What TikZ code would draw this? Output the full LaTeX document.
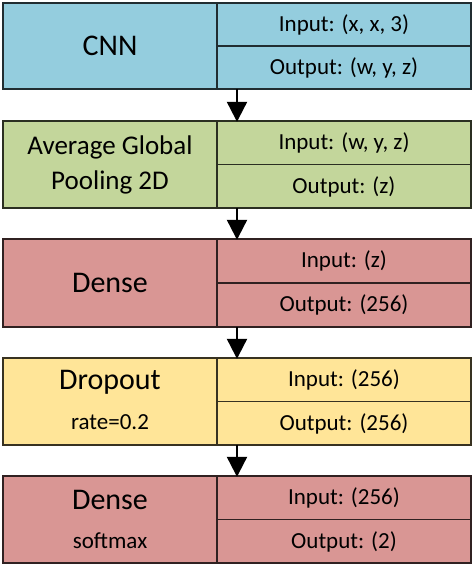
\documentclass[tikz,border=0pt]{standalone}
\usepackage{fontspec}
\setmainfont{Carlito}
\usetikzlibrary{arrows.meta}
\definecolor{cblue}{RGB}{148,205,222}
\definecolor{cgreen}{RGB}{195,214,155}
\definecolor{cred}{RGB}{217,150,148}
\definecolor{cyellow}{RGB}{255,229,152}
\tikzset{
  layerbox/.style={draw=#1!22!black, fill=#1, line width=1.6pt},
  divline/.style={draw=#1!22!black, line width=1.6pt},
  bigtxt/.style={font=\fontsize{30}{34}\selectfont, inner sep=0pt},
  midtxt/.style={font=\fontsize{27}{32}\selectfont, inner sep=0pt, align=center},
  smalltxt/.style={font=\fontsize{23}{27}\selectfont, inner sep=0pt},
  flow/.style={line width=2.2pt, -{Triangle[length=20pt,width=20pt]}, shorten >=-0.8pt}
}
\begin{document}
\begin{tikzpicture}[x=1pt,y=-1pt]
\useasboundingbox (0,0) rectangle (474,566);
% box tops and bottoms
\def\L{3}\def\R{471}\def\D{217}
\foreach \name/\top/\bot/\col in {b1/3/89/cblue, b2/121/208/cgreen, b3/239/327/cred, b4/358/445/cyellow, b5/476/563/cred}{
  \path[layerbox=\col] (\L,\top) rectangle (\R,\bot);
  \draw[divline=\col] (\D,\top) -- (\D,\bot);
  \draw[divline=\col] (\D,{(\top+\bot)/2}) -- (\R,{(\top+\bot)/2});
  \coordinate (\name top) at (237,\top);
  \coordinate (\name bot) at (237,\bot);
}
% left labels
\node[bigtxt] (cnn) at (110,46) {CNN};
\node[midtxt] (agp) at (110,165) {Average Global\\[2.5pt]Pooling 2D};
\node[bigtxt] (dense1) at (110,283) {Dense};
\node[bigtxt] (drop) at (110,382) {Dropout};
\node[smalltxt] (rate) at (110,422) {rate=0.2};
\node[bigtxt] (dense2) at (110,500) {Dense};
\node[smalltxt] (soft) at (110,541) {softmax};
% right labels
\node[smalltxt] (i1) at (344,25) {Input: (x, x, 3)};
\node[smalltxt] (o1) at (344,68) {Output: (w, y, z)};
\node[smalltxt] (i2) at (344,143) {Input: (w, y, z)};
\node[smalltxt] (o2) at (344,187) {Output: (z)};
\node[smalltxt] (i3) at (344,261) {Input: (z)};
\node[smalltxt] (o3) at (344,305) {Output: (256)};
\node[smalltxt] (i4) at (344,380) {Input: (256)};
\node[smalltxt] (o4) at (344,424) {Output: (256)};
\node[smalltxt] (i5) at (344,498) {Input: (256)};
\node[smalltxt] (o5) at (344,542) {Output: (2)};
% arrows
\draw[flow] (b1bot) -- (b2top);
\draw[flow] (b2bot) -- (b3top);
\draw[flow] (b3bot) -- (b4top);
\draw[flow] (b4bot) -- (b5top);
\end{tikzpicture}
\end{document}
